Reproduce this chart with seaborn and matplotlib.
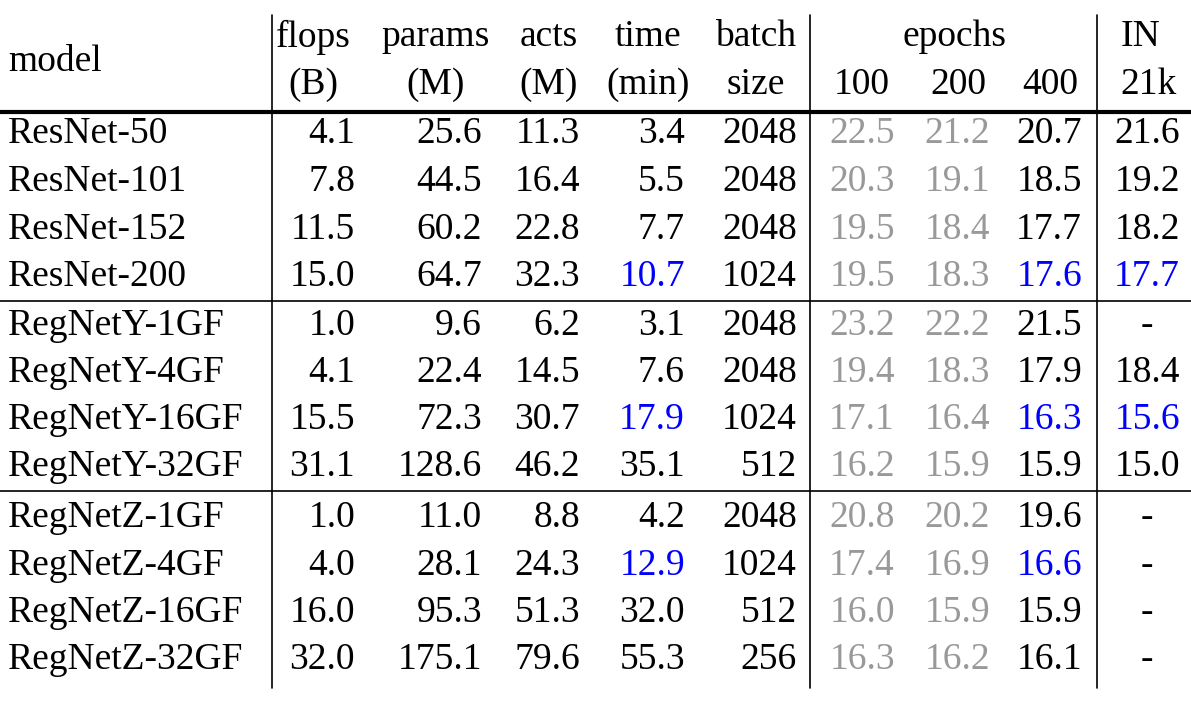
import matplotlib
matplotlib.use("Agg")
import matplotlib.pyplot as plt
import seaborn as sns

models = ["ResNet-50","ResNet-101","ResNet-152","ResNet-200",
          "RegNetY-1GF","RegNetY-4GF","RegNetY-16GF","RegNetY-32GF",
          "RegNetZ-1GF","RegNetZ-4GF","RegNetZ-16GF","RegNetZ-32GF"]
flops = ["4.1","7.8","11.5","15.0","1.0","4.1","15.5","31.1","1.0","4.0","16.0","32.0"]
params = ["25.6","44.5","60.2","64.7","9.6","22.4","72.3","128.6","11.0","28.1","95.3","175.1"]
acts = ["11.3","16.4","22.8","32.3","6.2","14.5","30.7","46.2","8.8","24.3","51.3","79.6"]
time_min = ["3.4","5.5","7.7","10.7","3.1","7.6","17.9","35.1","4.2","12.9","32.0","55.3"]
batch = ["2048","2048","2048","1024","2048","2048","1024","512","2048","1024","512","256"]
ep100 = ["22.5","20.3","19.5","19.5","23.2","19.4","17.1","16.2","20.8","17.4","16.0","16.3"]
ep200 = ["21.2","19.1","18.4","18.3","22.2","18.3","16.4","15.9","20.2","16.9","15.9","16.2"]
ep400 = ["20.7","18.5","17.7","17.6","21.5","17.9","16.3","15.9","19.6","16.6","15.9","16.1"]
in21k = ["21.6","19.2","18.2","17.7","-","18.4","15.6","15.0","-","-","-","-"]
blue_time = [3, 6, 9]
blue_400 = [3, 6, 9]
blue_in = [3, 6]

sns.set_theme(style="white")
plt.rcParams['font.family'] = ['Liberation Serif', 'DejaVu Serif']
plt.rcParams['text.color'] = 'black'
fig = plt.figure(figsize=(11.91, 7.01), dpi=100)
ax = fig.add_axes([0, 0, 1, 1])
ax.set_xlim(0, 1191); ax.set_ylim(701, 0); ax.axis("off")

fs = 27
BLUE = "#0000ff"; GRAY = "#999999"; K = "black"
rows_y = [134, 182, 230, 277, 326, 373, 420, 467, 518, 566, 613, 660]

ax.text(8, 62, "model", fontsize=fs, va="center", ha="left", color=K)
heads = [(313, "flops", "(B)"), (436, "params", "(M)"), (549, "acts", "(M)"),
         (648, "time", "(min)"), (756, "batch", "size")]
for x, a, b in heads:
    ax.text(x, 37, a, fontsize=fs, va="center", ha="center", color=K)
    ax.text(x, 85, b, fontsize=fs, va="center", ha="center", color=K)
ax.text(955, 37, "epochs", fontsize=fs, va="center", ha="center", color=K)
for x, s in [(862, "100"), (958, "200"), (1050, "400")]:
    ax.text(x, 85, s, fontsize=fs, va="center", ha="center", color=K)
ax.text(1140, 37, "IN", fontsize=fs, va="center", ha="center", color=K)
ax.text(1148, 85, "21k", fontsize=fs, va="center", ha="center", color=K)

cols = [(355, flops, None, None), (482, params, None, None), (580, acts, None, None),
        (685, time_min, blue_time, K), (797, batch, None, None),
        (895, ep100, None, GRAY), (990, ep200, None, GRAY), (1082, ep400, blue_400, K),
        (1180, in21k, blue_in, K)]
for i, y in enumerate(rows_y):
    ax.text(8, y, models[i], fontsize=fs, va="center", ha="left", color=K)
    for x, vals, blues, base in cols:
        c = base or K
        if blues and i in blues:
            c = BLUE
        v = vals[i]
        if v == "-":
            ax.text(1147, y, v, fontsize=fs, va="center", ha="center", color=c)
        else:
            ax.text(x, y, v, fontsize=fs, va="center", ha="right", color=c)

ax.plot([0, 1191], [112, 112], color=K, lw=3)
for yy in [301, 491]:
    ax.plot([0, 1191], [yy, yy], color=K, lw=1.2)
for xx in [272, 810, 1097]:
    ax.plot([xx, xx], [15, 688], color=K, lw=1.2)

fig.savefig("out.png", dpi=100, facecolor="white")
